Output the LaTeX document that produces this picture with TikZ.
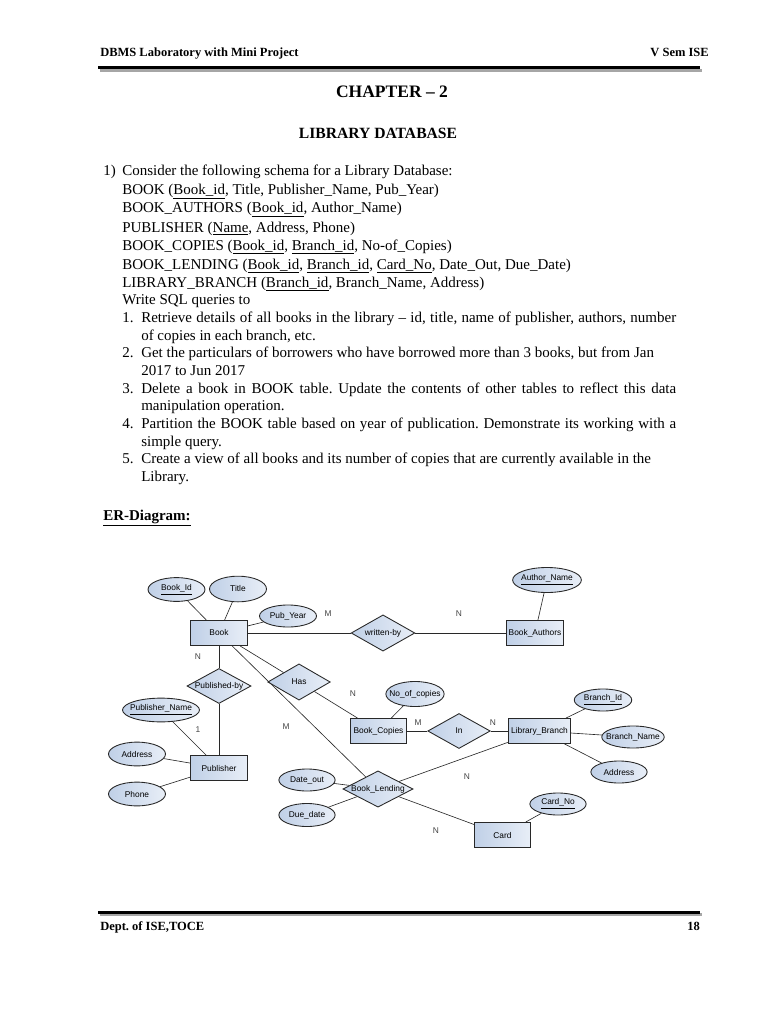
\documentclass[tikz,border=0pt]{standalone}
\usepackage{fontspec}
\setmainfont{Liberation Serif}
\newfontfamily\erfont{Liberation Sans}
\usetikzlibrary{shapes.geometric}
\frenchspacing

\definecolor{erblue}{RGB}{192,208,231}
\definecolor{erlight}{RGB}{232,238,247}
\definecolor{erdraw}{RGB}{40,40,40}
\definecolor{multgray}{RGB}{70,70,70}

\tikzset{
  bodyline/.style={anchor=base west, inner sep=0pt, font=\fontsize{12}{14}\selectfont},
  ertext/.style={font=\erfont\fontsize{6.7}{7.5}\selectfont},
  entity/.style={ertext, rectangle, draw=erdraw, line width=0.7pt, left color=erblue, right color=erlight,
    minimum width=45pt, minimum height=20pt, inner sep=0pt},
  attr/.style={ertext, ellipse, draw=erdraw, line width=0.7pt, left color=erblue, right color=erlight,
    minimum width=45.6pt, minimum height=19pt, inner xsep=-4pt, inner ysep=0pt},
  rel/.style={ertext, diamond, shape aspect=2, draw=erdraw, line width=0.7pt, left color=erblue, right color=erlight,
    minimum width=51pt, minimum height=29pt, inner sep=0pt},
  mult/.style={ertext, text=multgray, inner sep=0pt},
  link/.style={draw=erdraw, line width=0.5pt},
}

\begin{document}
\begin{tikzpicture}[x=0.8pt, y=-0.8pt]
\fill[white] (0,0) rectangle (768,1024);
\useasboundingbox (0,0) rectangle (768,1024);

% ========= header / footer =========
\node[anchor=base west, inner sep=0pt, font=\bfseries\fontsize{10}{12}\selectfont] (hdleft) at (100,57) {DBMS Laboratory with Mini Project};
\node[anchor=base east, inner sep=0pt, font=\bfseries\fontsize{10}{12}\selectfont] (hdright) at (709,57) {V Sem ISE};
\draw[line width=2.4pt, black!35] (100,70.5) -- (702,70.5);
\draw[line width=2.4pt] (98,68) -- (700,68);
\draw[line width=2.4pt, black!35] (100,914.5) -- (702,914.5);
\draw[line width=2.4pt] (98,912) -- (700,912);
\node[anchor=base west, inner sep=0pt, font=\bfseries\fontsize{10}{12}\selectfont] (ftleft) at (100,930) {Dept. of ISE,TOCE};
\node[anchor=base east, inner sep=0pt, font=\bfseries\fontsize{10}{12}\selectfont] (ftright) at (700,930) {18};

% ========= title =========
\node[font=\bfseries\fontsize{14}{16}\selectfont] (chap) at (392,92) {CHAPTER – 2};
\node[font=\bfseries\fontsize{12.5}{15}\selectfont] (libdb) at (378,133) {LIBRARY DATABASE};

% ========= schema and queries =========
\node[bodyline] (q0num) at (103,176) {1)};
\node[bodyline] (q0) at (122,176) {Consider the following schema for a Library Database:};
\node[bodyline] (s1) at (122,195) {BOOK (\underline{Book\_id}, Title, Publisher\_Name, Pub\_Year)};
\node[bodyline] (s2) at (122,213) {BOOK\_AUTHORS (\underline{Book\_id}, Author\_Name)};
\node[bodyline] (s3) at (122,232) {PUBLISHER (\underline{Name}, Address, Phone)};
\node[bodyline] (s4) at (122,250) {BOOK\_COPIES (\underline{Book\_id}, \underline{Branch\_id}, No-of\_Copies)};
\node[bodyline] (s5) at (122,269) {BOOK\_LENDING (\underline{Book\_id}, \underline{Branch\_id}, \underline{Card\_No}, Date\_Out, Due\_Date)};
\node[bodyline] (s6) at (122,287) {LIBRARY\_BRANCH (\underline{Branch\_id}, Branch\_Name, Address)};
\node[bodyline] (wsql) at (122,304) {Write SQL queries to};

\node[bodyline] (n1) at (122,322) {1.};
\node[bodyline] (t1a) at (141,322) {\hbox to 428pt{Retrieve details of all books in the library – id, title, name of publisher, authors, number}};
\node[bodyline] (t1b) at (141,340) {of copies in each branch, etc.};
\node[bodyline] (n2) at (122,357) {2.};
\node[bodyline] (t2a) at (141,357) {Get the particulars of borrowers who have borrowed more than 3 books, but from Jan};
\node[bodyline] (t2b) at (141,375) {2017 to Jun 2017};
\node[bodyline] (n3) at (122,393) {3.};
\node[bodyline] (t3a) at (141,393) {\hbox to 428pt{Delete a book in BOOK table. Update the contents of other tables to reflect this data}};
\node[bodyline] (t3b) at (141,410) {manipulation operation.};
\node[bodyline] (n4) at (122,428) {4.};
\node[bodyline] (t4a) at (141,428) {\hbox to 428pt{Partition the BOOK table based on year of publication. Demonstrate its working with a}};
\node[bodyline] (t4b) at (141,446) {simple query.};
\node[bodyline] (n5) at (122,463) {5.};
\node[bodyline] (t5a) at (141,463) {Create a view of all books and its number of copies that are currently available in the};
\node[bodyline] (t5b) at (141,481) {Library.};

\node[bodyline, font=\bfseries\fontsize{12}{14}\selectfont] (erhead) at (103,520) {\underline{ER-Diagram:}};

% ========= ER diagram: entities =========
\node[entity] (book) at (219,633) {Book};
\node[entity] (bookauthors) at (535,633) {Book\_Authors};
\node[entity] (publisher) at (219,768) {Publisher};
\node[entity] (bookcopies) at (378.5,731) {Book\_Copies};
\node[entity, minimum width=50pt] (libbranch) at (539.5,731) {Library\_Branch};
\node[entity] (card) at (502.5,835) {Card};

% ========= ER diagram: relationships =========
\node[rel] (writtenby) at (383,633) {written-by};
\node[rel, minimum height=28pt] (publishedby) at (219,686) {Published-by};
\node[rel, minimum width=50pt] (has) at (299,682) {Has};
\node[rel, minimum width=50pt, minimum height=28pt] (inrel) at (459,731) {In};
\node[rel, minimum width=56pt] (lending) at (378,789) {Book\_Lending};

% ========= ER diagram: attributes =========
\node[attr] (bookid) at (176.5,589.5) {\underline{Book\_Id}};
\node[attr, minimum height=20.5pt] (title) at (238,589) {Title};
\node[attr, minimum height=17.6pt] (pubyear) at (288,616) {Pub\_Year};
\node[attr, minimum width=55pt, minimum height=20pt] (authorname) at (547,580) {\underline{Author\_Name}};
\node[attr, minimum width=61.6pt] (pubname) at (161,710) {\underline{Publisher\_Name}};
\node[attr] (pubaddress) at (137,754) {Address};
\node[attr] (phone) at (137,794) {Phone};
\node[attr, minimum width=44pt, minimum height=20pt] (nocopies) at (415,694) {No\_of\_copies};
\node[attr, minimum width=46pt, minimum height=17.6pt] (branchid) at (603,700) {\underline{Branch\_Id}};
\node[attr, minimum width=50pt, minimum height=17.6pt] (branchname) at (633,737) {Branch\_Name};
\node[attr, minimum width=45pt, minimum height=17.6pt] (braddress) at (619,772) {Address};
\node[attr, minimum width=45pt, minimum height=17.6pt] (dateout) at (307,780) {Date\_out};
\node[attr, minimum width=45pt, minimum height=18.4pt] (duedate) at (307,815) {Due\_date};
\node[attr, minimum width=45pt, minimum height=17.6pt] (cardno) at (558,804) {\underline{Card\_No}};

% ========= ER diagram: links =========
\draw[link] (bookid) -- (book);
\draw[link] (title) -- (book);
\draw[link] (pubyear) -- (book);
\draw[link] (book) -- (writtenby);
\draw[link] (writtenby) -- (bookauthors);
\draw[link] (authorname) -- (bookauthors);
\draw[link] (book) -- (publishedby);
\draw[link] (publishedby) -- (publisher);
\draw[link] (pubname) -- (publisher);
\draw[link] (pubaddress) -- (publisher);
\draw[link] (phone) -- (publisher);
\draw[link] (book) -- (has);
\draw[link] (has) -- (bookcopies);
\draw[link] (nocopies) -- (bookcopies);
\draw[link] (bookcopies) -- (inrel);
\draw[link] (inrel) -- (libbranch);
\draw[link] (libbranch) -- (branchid);
\draw[link] (libbranch) -- (branchname);
\draw[link] (libbranch) -- (braddress);
\draw[link] (book) -- (lending);
\draw[link] (lending) -- (libbranch);
\draw[link] (lending) -- (card);
\draw[link] (dateout) -- (lending);
\draw[link] (duedate) -- (lending);
\draw[link] (cardno) -- (card);

% ========= ER diagram: cardinalities =========
\node[mult] (mwb) at (328,614) {M};
\node[mult] (nwb) at (459,614) {N};
\node[mult] (npb) at (198,657) {N};
\node[mult] (opb) at (198,730) {1};
\node[mult] (mbl) at (286,727) {M};
\node[mult] (nhas) at (353,694) {N};
\node[mult] (min) at (418,723) {M};
\node[mult] (nin) at (493,723) {N};
\node[mult] (nlb) at (467,777) {N};
\node[mult] (ncard) at (436,831) {N};
\end{tikzpicture}
\end{document}
